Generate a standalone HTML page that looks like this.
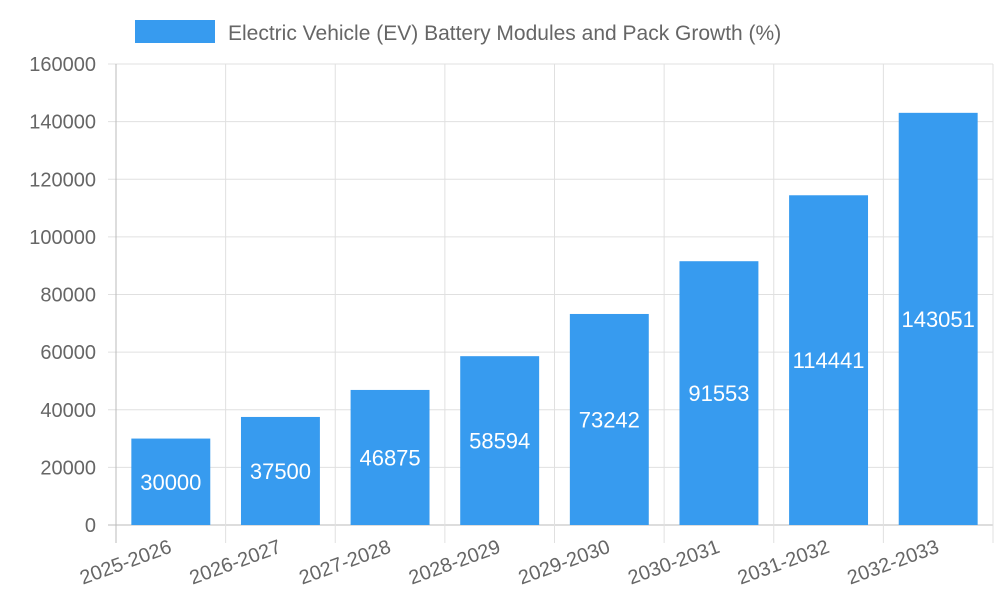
<!DOCTYPE html>
<html><head><meta charset="utf-8"><style>
body{margin:0;background:#fff;}
svg{display:block;font-family:"Liberation Sans",sans-serif;}
</style></head><body>
<svg id="chart" width="1000" height="600">
<g>
<rect x="135" y="20" width="80" height="23" fill="#379bef"></rect>
<text x="228" y="40" font-size="21" fill="#666">Electric Vehicle (EV) Battery Modules and Pack Growth (%)</text>
</g>
<g id="grid"></g>
<g id="bars"></g>
<g id="labels"></g>
</svg>
<script>
const categories=["2025-2026","2026-2027","2027-2028","2028-2029","2029-2030","2030-2031","2031-2032","2032-2033"];
const values=[30000,37500,46875,58594,73242,91553,114441,143051];
const yTicks=[0,20000,40000,60000,80000,100000,120000,140000,160000];
const NS="http://www.w3.org/2000/svg";
const L=116,R=993,T=64,B=525,yMax=160000;
const bw=(R-L)/categories.length;
const y=v=>B-(v/yMax)*(B-T);
const xc=i=>L+bw*(i+0.5);
function mk(tag,attrs,parent,text){const e=document.createElementNS(NS,tag);for(const k in attrs)e.setAttribute(k,attrs[k]);if(text!==undefined)e.textContent=text;parent.appendChild(e);return e;}
const grid=document.getElementById('grid'),bars=document.getElementById('bars'),labels=document.getElementById('labels');
yTicks.forEach(t=>{
  const ln=mk('line',{x1:108,x2:R,y1:y(t),y2:y(t),stroke:t===0?'#bbb':'#e0e0e0','stroke-width':1},grid);
  
  
  const tx=mk('text',{x:96,y:y(t)+7,'text-anchor':'end','font-size':20,fill:'#666'},labels,String(t));
  
  
});
for(let i=0;i<=categories.length;i++){
  const x=L+bw*i;
  const ln=mk('line',{x1:x,x2:x,y1:T,y2:543,stroke:i===0?'#bbb':'#e0e0e0','stroke-width':1},grid);
  
  
}
categories.forEach((c,i)=>{
  const w=bw*0.72,v=values[i];
  const r=mk('rect',{x:xc(i)-w/2,y:y(v),width:w,height:B-y(v),fill:'#379bef'},bars);
  
  
  const vt=mk('text',{x:xc(i),y:(y(v)+B)/2+8,'text-anchor':'middle','font-size':22,fill:'#fff'},bars,String(v));
  
  
  const tx=mk('text',{x:xc(i)+2,y:552,'text-anchor':'end','font-size':20,fill:'#666',transform:`rotate(-20 ${xc(i)+2} 552)`},labels,c);
  
  
});
</script>
</body></html>
